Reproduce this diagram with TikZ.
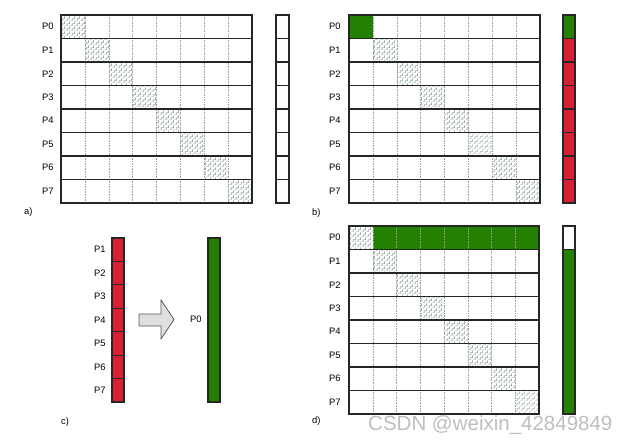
\documentclass[tikz,border=0pt]{standalone}
\usepackage{fontspec}
\setmainfont{Liberation Sans}
\usetikzlibrary{patterns}

\definecolor{sumgreen}{RGB}{36,128,0}
\definecolor{partred}{RGB}{214,32,52}
\definecolor{hatchgray}{RGB}{160,178,172}

% staircase hatching of the diagonal blocks
\pgfdeclarepatternformonly{stairs}{\pgfpointorigin}{\pgfpoint{4pt}{4pt}}{\pgfpoint{4pt}{4pt}}{
  \pgfsetlinewidth{0.5pt}
  \pgfpathmoveto{\pgfpoint{0pt}{0pt}}
  \pgfpathlineto{\pgfpoint{2pt}{0pt}}
  \pgfpathlineto{\pgfpoint{2pt}{2pt}}
  \pgfpathlineto{\pgfpoint{4pt}{2pt}}
  \pgfpathlineto{\pgfpoint{4pt}{4pt}}
  \pgfusepath{stroke}}

\tikzset{
  hatched/.style={pattern=stairs, pattern color=hatchgray},
  colline/.style={densely dotted, gray!75},
  rowline/.style={line width=0.9pt, black!85},
  frame/.style={line width=0.9pt, black!85},
  lbl/.style={font=\fontsize{8}{9}\selectfont, anchor=west, inner sep=0pt},
}

\begin{document}
\begin{tikzpicture}[x=0.03cm, y=-0.03cm]
        \useasboundingbox (0,0) rectangle (630,444);
        \fill[white] (0,0) rectangle (630,444);

            % a) blocks on the diagonal, empty result vector
            \foreach \i in {0,...,7}
              \fill[hatched] ({61+\i*23.875},{15+\i*23.5}) rectangle ++(23.875,23.5);
            \foreach \i in {1,...,7}
              \draw[colline] ({61+\i*23.875},15) -- ++(0,188);
            \foreach \i in {1,...,7}
              \draw[rowline] (61,{15+\i*23.5}) -- ++(191,0);
            \draw[frame] (61,15) rectangle (252,203);
            \foreach \i in {0,...,7}
              \node[lbl] (a-p\i) at (42,{26.75+\i*23.5}) {P\i};
            \foreach \i in {0,...,7}
              \draw[frame] (276,{15+\i*23.5}) rectangle ++(13,23.5);
            \node[lbl] (a-tag) at (24,212) {a)};

            % b) first block done on P0, partial results elsewhere
            \fill[sumgreen] (349,15) rectangle ++(23.875,23.5);
            \foreach \i in {1,...,7}
              \fill[hatched] ({349+\i*23.875},{15+\i*23.5}) rectangle ++(23.875,23.5);
            \foreach \i in {1,...,7}
              \draw[colline] ({349+\i*23.875},15) -- ++(0,188);
            \foreach \i in {1,...,7}
              \draw[rowline] (349,{15+\i*23.5}) -- ++(191,0);
            \draw[frame] (349,15) rectangle (540,203);
            \foreach \i in {0,...,7}
              \node[lbl] (b-p\i) at (329,{26.75+\i*23.5}) {P\i};
            \draw[frame, fill=sumgreen] (563,15) rectangle ++(12,23.5);
            \foreach \i in {1,...,7}
              \draw[frame, fill=partred] (563,{15+\i*23.5}) rectangle ++(12,23.5);
            \node[lbl] (b-tag) at (312,213) {b)};

            % c) partial results gathered on P0
            \foreach \i in {1,...,7}
              \draw[frame, fill=partred] (112,{238+(\i-1)*23.43}) rectangle ++(12,23.43);
            \foreach \i in {1,...,7}
              \node[lbl] (c-p\i) at (94,{249.7+(\i-1)*23.43}) {P\i};
            \filldraw[fill=gray!25, draw=gray!70!black, line width=0.6pt]
              (139,314) -- (161,314) -- (161,300) -- (174,319.5) -- (161,339) -- (161,326) -- (139,326) -- cycle;
            \draw[frame, fill=sumgreen] (208,238) rectangle (220,402);
            \node[lbl] (c-p0) at (190,319.5) {P0};
            \node[lbl] (c-tag) at (61,422) {c)};

            % d) P0 owns the summed row
            \fill[hatched] (349,226) rectangle ++(23.75,23.5);
            \fill[sumgreen] (372.75,226) rectangle (539,249.5);
            \foreach \i in {1,...,7}
              \fill[hatched] ({349+\i*23.75},{226+\i*23.5}) rectangle ++(23.75,23.5);
            \foreach \i in {1,...,7}
              \draw[colline] ({349+\i*23.75},226) -- ++(0,188);
            \foreach \i in {1,...,7}
              \draw[rowline] (349,{226+\i*23.5}) -- ++(190,0);
            \draw[frame] (349,226) rectangle (539,414);
            \foreach \i in {0,...,7}
              \node[lbl] (d-p\i) at (329,{237.75+\i*23.5}) {P\i};
            \draw[frame] (563,226) rectangle ++(12,23.5);
            \draw[frame, fill=sumgreen] (563,249.5) rectangle (575,414);
            \node[lbl] (d-tag) at (312,421) {d)};

            % watermark
            \node[anchor=west, inner sep=0pt, text=gray!50, font=\fontsize{17.5}{20}\selectfont] (mark) at (368,425) {CSDN @weixin\_42849849};

\end{tikzpicture}
\end{document}
